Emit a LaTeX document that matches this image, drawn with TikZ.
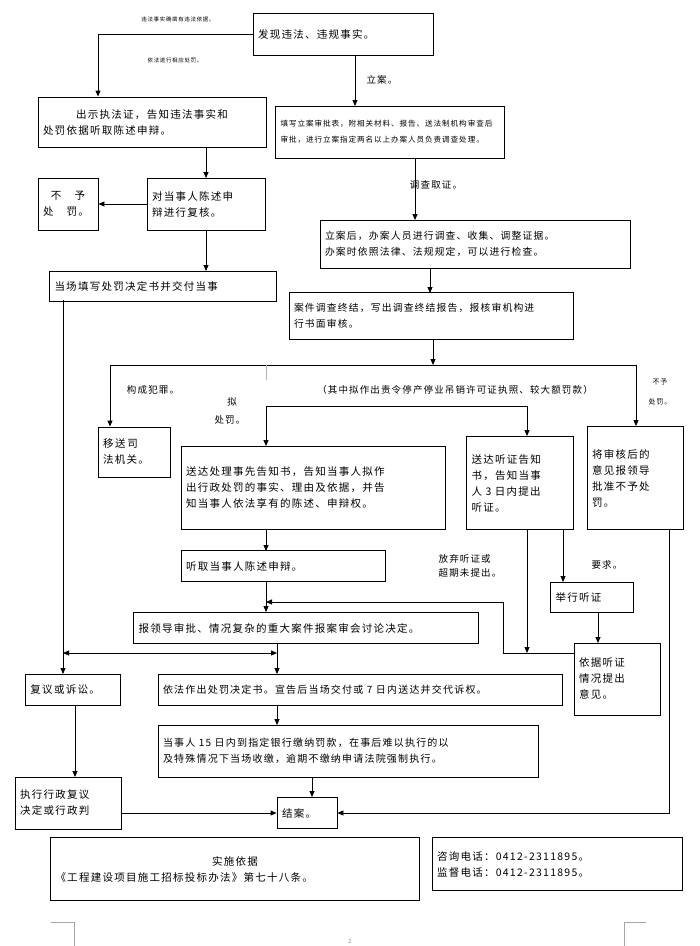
\documentclass[tikz,border=0pt]{standalone}
\usepackage{fontspec}
\setmainfont[LetterSpace=12]{Noto Sans CJK SC}
\usetikzlibrary{arrows.meta}

\tikzset{
  box/.style={draw, line width=0.9pt, align=left, inner sep=2pt, font=\fontsize{10.5}{16}\selectfont},
  lbl/.style={font=\fontsize{9.5}{14}\selectfont, align=left},
  tiny/.style={font=\fontsize{5.5}{7}\selectfont},
  line/.style={line width=0.9pt},
  arr/.style={line width=0.9pt, -{Triangle[length=6pt,width=5pt]}},
}
\newcommand{\bx}[5]{\node[box, minimum width=#3pt, minimum height=#4pt, text width=\dimexpr#3pt-10pt\relax] (#1) at #2 {#5};}

\begin{document}
\begin{tikzpicture}[x=1pt,y=-1pt]
\useasboundingbox (0,0) rectangle (700,946);
% boxes
\bx{find}{(343,34)}{180}{42}{\centering 发现违法、违规事实。}
\bx{show}{(152,122)}{228}{50}{\centering 出示执法证，告知违法事实和\\处罚依据听取陈述申辩。}
\bx{file}{(390,132)}{229}{52}{\fontsize{7.6}{16}\selectfont 填写立案审批表，附相关材料、报告、送法制机构审查后\\审批，进行立案指定两名以上办案人员负责调查处理。}
\bx{nopen}{(68,204)}{60}{52}{\centering 不　予\\处　罚。}
\bx{review}{(206,204)}{118}{52}{对当事人陈述申\\辩进行复核。}
\bx{spot}{(163,286)}{227}{30}{\centering 当场填写处罚决定书并交付当事}
\bx{invest}{(475,244)}{310}{48}{\fontsize{9.8}{16}\selectfont 立案后，办案人员进行调查、收集、调整证据。\\办案时依照法律、法规规定，可以进行检查。}
\bx{close}{(431,316)}{284}{47}{\fontsize{9.8}{16}\selectfont 案件调查终结，写出调查终结报告，报核审机构进\\行书面审核。}
\bx{judic}{(134,452)}{72}{50}{移\,送\,司\\法机关。}
\bx{notice}{(313,488)}{264}{83}{送达处理事先告知书，告知当事人拟作\\出行政处罚的事实、理由及依据，并告\\知当事人依法享有的陈述、申辩权。}
\bx{hearn}{(520,483)}{107}{93}{送达听证告知\\书，告知当事\\人 3 日内提出\\听证。}
\bx{leader}{(635,478)}{96}{103}{将审核后的\\意见报领导\\批准不予处\\罚。}
\bx{listen}{(283,566)}{204}{31}{\centering 听取当事人陈述申辩。}
\bx{hold}{(592,597)}{83}{30}{\centering 举行听证}
\bx{opin}{(617,679)}{86}{72}{依据听证\\情况提出\\意见。}
\bx{report}{(306,628)}{345}{31}{报领导审批、情况复杂的重大案件报案审会讨论决定。}
\bx{appeal}{(73,690)}{95}{31}{\centering 复议或诉讼。}
\bx{decide}{(360,690)}{404}{31}{\fontsize{10}{16}\selectfont 依法作出处罚决定书。宣告后当场交付或 7 日内送达并交代诉权。}
\bx{pay}{(348,751)}{380}{52}{\fontsize{10}{16}\selectfont 当事人 15 日内到指定银行缴纳罚款，在事后难以执行的以\\及特殊情况下当场收缴，逾期不缴纳申请法院强制执行。}
\bx{exec}{(68,803)}{106}{52}{执行行政复议\\决定或行政判}
\bx{end}{(307,813)}{60}{31}{\centering 结案。}
\bx{basis}{(235,869)}{369}{63}{\centering 实施依据\\\raggedright《工程建设项目施工招标投标办法》第七十八条。}
\bx{tel}{(557,864)}{250}{53}{咨询电话：0412-2311895。\\监督电话：0412-2311895。}
% labels
\node[tiny] at (178,19) {违法事实确凿有违法依据。};
\node[tiny] at (175,60) {依法进行相应处罚。};
\node[lbl] at (382,80) {立案。};
\node[lbl] at (436,185) {调查取证。};
\node[lbl] at (153,390) {构成犯罪。};
\node[lbl] at (232,402) {拟};
\node[lbl] at (230,420) {处罚。};
\node[lbl] at (455,390) {（其中拟作出责令停产停业吊销许可证执照、较大额罚款）};
\node[tiny, font=\fontsize{7}{9}\selectfont] at (660,382) {不予};
\node[tiny, font=\fontsize{7}{9}\selectfont] at (660,402) {处罚。};
\node[lbl] at (470,566) {放弃听证或\\超期未提出。};
\node[lbl] at (607,565) {要求。};
% junctions
\coordinate (tl) at (98,34);
\coordinate (bl) at (110,365);
\coordinate (br) at (636,365);
\coordinate (bm) at (433,365);
\coordinate (sl) at (266,406);
\coordinate (sr) at (527,406);
\coordinate (ra) at (503,653);
\coordinate (rb) at (503,602);
\coordinate (rc) at (266,602);
\coordinate (dl) at (63,653);
\coordinate (dr) at (277,653);
\coordinate (er) at (669,813);
% connectors
\draw[arr] (find.west) -- (tl) -- (tl |- show.north);
\draw[arr] (355,55) -- (355,106);
\draw[arr] (206,147) -- (206,178);
\draw[arr] (review.west) -- (nopen.east);
\draw[arr] (206,230) -- (206,271);
\draw[arr] (415,158) -- (415,220);
\draw[arr] (430,268) -- (430,293);
\draw[arr] (433,340) -- (bm);
\draw[line] (bl) -- (br);
\draw[arr] (bl) -- (bl |- judic.north);
\draw[arr] (br) -- (br |- leader.north);
\draw[line, gray!60] (266,365) -- (266,380);
\draw[line] (sl) -- (sr);
\draw[arr] (sl) -- (sl |- notice.north);
\draw[arr] (sr) -- (sr |- hearn.north);
\draw[arr] (266,530) -- (266,551);
\draw[arr] (266,582) -- (266,612);
\draw[arr] (opin.west |- ra) -- (ra) -- (rb) -- (rc);
\draw[arr] (527,530) -- (527,653);
\draw[arr] (563,530) -- (563,582);
\draw[arr] (598,612) -- (598,643);
\draw[arr] (63,300) -- (63,674);
\draw[arr, {Triangle[length=6pt,width=5pt]}-{Triangle[length=6pt,width=5pt]}] (dl) -- (dr);
\draw[arr] (277,643) -- (277,674);
\draw[arr] (75,705) -- (75,777);
\draw[arr] (277,705) -- (277,725);
\draw[arr] (312,777) -- (312,797);
\draw[arr] (exec.east |- end.west) -- (end.west);
\draw[arr] (669,530) -- (er) -- (end.east);
% page marks
\draw[gray!70, line width=0.6pt] (51,922) -- (74,922) -- (74,946);
\draw[gray!70, line width=0.6pt] (646,922) -- (624,922) -- (624,946);
\node[tiny, gray] at (350,941) {2};
\end{tikzpicture}
\end{document}
